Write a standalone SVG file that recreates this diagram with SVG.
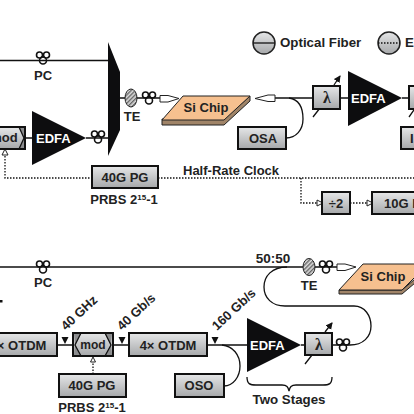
<svg xmlns="http://www.w3.org/2000/svg" width="414" height="414" viewBox="0 0 414 414">
<style>
text{font-family:"Liberation Sans",Arial,sans-serif;font-weight:bold;fill:#222;font-size:13px}
.m{text-anchor:middle}
.w{fill:#fff}
.lam{font-family:"Liberation Serif",serif;font-size:16px}
.sup{font-size:8px}
.l{fill:none;stroke:#111;stroke-width:1.3}
.d{fill:none;stroke:#111;stroke-width:1.3;stroke-dasharray:1.5 1.5}
.b{fill:url(#g);stroke:#111;stroke-width:2}
.t{fill:#0d0d0f}
.c{fill:none;stroke:#111;stroke-width:1.6}
.chip{fill:#f6c08f;stroke:#222;stroke-width:1}
.side{fill:#a08468;stroke:#222;stroke-width:1}
.te{fill:url(#h);stroke:#222;stroke-width:1}
.o{fill:#fff;stroke:#222;stroke-width:1}
.corner{fill:#8b8c8e}
.leg{fill:url(#g);stroke:#222;stroke-width:1.5}
</style>
<defs>
<linearGradient id="g" x1="0" y1="0" x2="0" y2="1"><stop offset="0" stop-color="#e6e7e8"/><stop offset="1" stop-color="#a6a8aa"/></linearGradient>
<pattern id="h" width="3" height="3" patternUnits="userSpaceOnUse" patternTransform="rotate(45)"><rect width="3" height="3" fill="#ddd"/><rect width="1.400" height="3" fill="#666"/></pattern>
<g id="coil"><circle cx="-3.500" cy="-3" r="3" class="c"/><circle cx="3.500" cy="-3" r="3" class="c"/><circle cx="0" cy="2.500" r="3.500" class="c"/></g>
<marker id="ab" markerWidth="8" markerHeight="8" refX="6" refY="3.500" orient="auto" markerUnits="userSpaceOnUse"><path d="M0 0L7 3.500L0 7Z" fill="#111"/></marker>
</defs>
<rect width="414" height="414" fill="#fff"/>
<g id="connectors">
<path class="l" d="M0 60.500H108M25 138H32M86 138H108M120 98H160M275 98H313M340 98H348M402 98H409"/>
<path class="l" d="M289 98C302 100 303 112 303 119C303 130 296 138 286 138"/>
<path class="d" d="M5 153V178H92M158 178H414M301 178V203H318M350 203H369"/>
<path d="M5 149L2 155H8Z" fill="#fff" stroke="#222"/>
<path d="M323 203L317 200V206Z" fill="#fff" stroke="#222"/>
<path d="M373 203L367 200V206Z" fill="#fff" stroke="#222"/>
<path class="l" d="M0 267H303M315 267H338"/>
<path class="l" d="M287 267C272 267 264 276 264 287C264 298 272 306 285 306H354C365 306 371 316 371 326C371 337 363 345 350 345H332"/>
<path class="l" d="M57 345H73M113 345H129M207 345H247M301 345H305"/>
<path class="l" d="M222 345C233 346 240 355 240 366C240 377 233 386 224 386"/>
<path class="d" d="M93 374V360"/>
<path d="M93 357L90.500 362H95.500Z" fill="#fff" stroke="#222"/>
<path d="M61.500 337H68.500L65 344Z M118.500 337H125.500L122 344Z M211.500 337H218.500L215 344Z" fill="#111"/>
<path class="l" d="M313 117L320 108M305 364L312 355M409 117L414 110"/>
<path class="l" d="M334 85L340 76" marker-end="url(#ab)"/>
<path class="l" d="M325 332L332 323" marker-end="url(#ab)"/>
<path class="l" d="M247 377C247 384 250 385 256 385H282C287 385 288 387 289 391C290 387 291 385 296 385H323C329 385 332 384 332 377"/>
<rect x="0" y="300" width="2.500" height="2.500" fill="#111"/>
</g>
<g id="pc1"><use href="#coil" x="43" y="58"/><text class="m" x="43" y="80">PC</text></g>
<g id="pc2"><use href="#coil" x="43" y="267"/><text class="m" x="43" y="287">PC</text></g>
<g id="mux"><path class="t" d="M108 42L120 72V130L108 156Z"/></g>
<g id="mod1"><rect class="b" x="-20" y="127" width="45" height="22"/><path class="corner" d="M19 128H24V138ZM19 148H24V138Z"/><path class="l" d="M19 127L24 138L19 149"/><text class="m" x="4" y="142">mod</text></g>
<g id="edfa1"><path class="t" d="M32 111L86 138L32 165Z"/><text class="w" x="36" y="143">EDFA</text></g>
<g id="coil1"><use href="#coil" x="98" y="137"/></g>
<g id="pg1"><rect class="b" x="92" y="166" width="66" height="22"/><text class="m" x="125" y="182">40G PG</text><text class="m" x="124" y="204">PRBS 2<tspan class="sup" dy="-4">15</tspan><tspan dy="4">-1</tspan></text></g>
<g id="te1"><ellipse class="te" cx="131" cy="98" rx="6" ry="9"/><text class="m" x="132" y="121">TE</text></g>
<g id="coil2"><use href="#coil" x="149" y="98"/></g>
<g id="taper1"><path class="o" d="M160 95.500V102H168L179 98.500L168 95.500Z"/></g>
<g id="chip1"><path class="side" d="M162 119V125H224L250 101V96L224 119Z"/><path class="chip" d="M183 96H250L224 120H162Z"/><text class="m" x="206" y="112">Si Chip</text></g>
<g id="taper2"><path class="o" d="M275 95V101.500H268L255 98.500L268 95Z"/></g>
<g id="osa"><rect class="b" x="238" y="127" width="48" height="22"/><text class="m" x="263" y="143">OSA</text></g>
<g id="tf1"><rect class="b" x="313" y="86" width="27" height="23"/><text class="m lam" x="327" y="103">λ</text></g>
<g id="edfa2"><path class="t" d="M348 71L402 98L348 126Z"/><text class="w" x="351" y="103">EDFA</text></g>
<g id="tf2"><rect class="b" x="409" y="86" width="27" height="23"/></g>
<g id="box-right"><rect class="b" x="401" y="127" width="40" height="22"/><text x="410" y="143">I</text></g>
<g id="div2"><rect class="b" x="322" y="192" width="28" height="22"/><text class="m" x="336" y="208">÷2</text></g>
<g id="pg10"><rect class="b" x="372" y="192" width="60" height="22"/><text x="384" y="208">10G P</text></g>
<g id="legend1"><circle class="leg" cx="264" cy="43" r="11"/><path class="l" d="M253 43H275"/><text x="280" y="47" style="font-size:13.300px">Optical Fiber</text></g>
<g id="legend2"><circle class="leg" cx="389" cy="43" r="11"/><path class="d" d="M378 43H400"/><text x="405" y="47" style="font-size:13.300px">E</text></g>
<text x="183" y="175">Half-Rate Clock</text>
<g id="otdm1"><rect class="b" x="-21" y="333" width="78" height="23"/><text class="m" x="18" y="350">4× OTDM</text></g>
<g id="mod2"><rect class="b" x="73" y="333" width="40" height="23"/><path class="corner" d="M74 334H81L75 345ZM74 355H81L75 345ZM112 334H105L111 345ZM112 355H105L111 345Z"/><path class="l" d="M81 333L75 345L81 356M105 333L111 345L105 356"/><text class="m" x="93" y="349" style="font-size:12px">mod</text></g>
<g id="otdm2"><rect class="b" x="129" y="333" width="78" height="23"/><text class="m" x="168" y="350">4× OTDM</text></g>
<g id="pg2"><rect class="b" x="59" y="374" width="67" height="23"/><text class="m" x="92" y="390">40G PG</text><text class="m" x="92" y="412">PRBS 2<tspan class="sup" dy="-4">15</tspan><tspan dy="4">-1</tspan></text></g>
<g id="oso"><rect class="b" x="175" y="374" width="49" height="23"/><text class="m" x="199" y="390">OSO</text></g>
<g id="edfa3"><path class="t" d="M247 318L301 345L247 372Z"/><text class="w" x="250" y="350">EDFA</text></g>
<g id="tf3"><rect class="b" x="305" y="333" width="27" height="22"/><text class="m lam" x="319" y="350">λ</text></g>
<g id="coil3"><use href="#coil" x="343" y="345"/></g>
<g id="te2"><ellipse class="te" cx="309" cy="267" rx="6" ry="8.500"/><text class="m" x="309" y="290">TE</text></g>
<g id="coil4"><use href="#coil" x="326" y="267"/></g>
<g id="taper3"><path class="o" d="M337 264V270.500H345L356 267L345 264Z"/></g>
<g id="chip2"><path class="side" d="M339 290V294H402L428 272V268L402 290Z"/><path class="chip" d="M363 264H428L402 290H339Z"/><text class="m" x="383" y="281">Si Chip</text></g>
<text class="m" x="273" y="263" style="font-size:13.500px">50:50</text>
<text x="66" y="331" transform="rotate(-43 66 331)">40 GHz</text>
<text x="122" y="331" transform="rotate(-43 122 331)">40 Gb/s</text>
<text x="217" y="331" transform="rotate(-43 217 331)">160 Gb/s</text>
<text class="m" x="289" y="404" style="font-size:13.300px">Two Stages</text>
</svg>
